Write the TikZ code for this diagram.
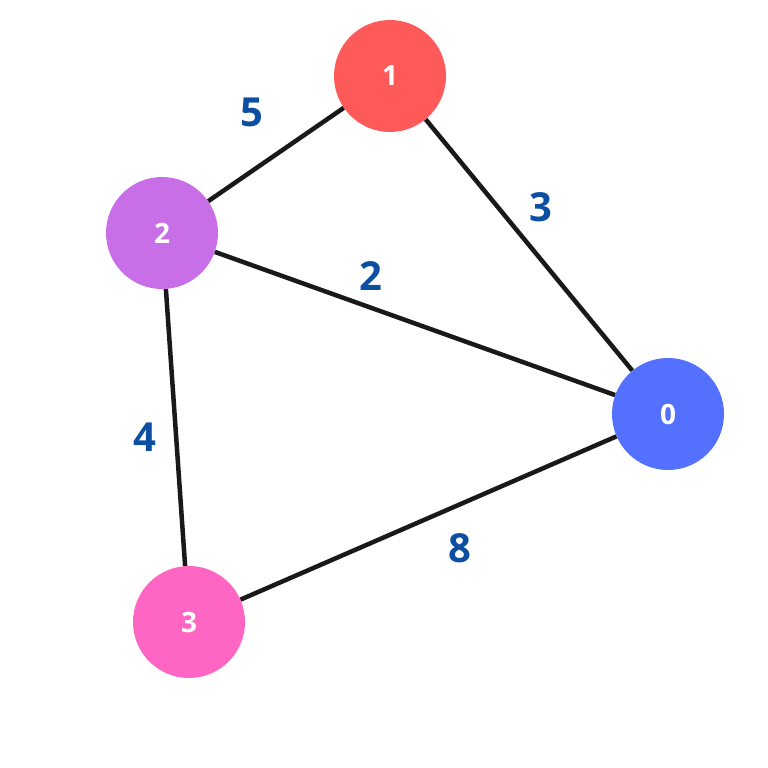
\documentclass[tikz,border=0pt]{standalone}
\usepackage{fontspec}
\setmainfont{Open Sans}
\usetikzlibrary{positioning}
\definecolor{redv}{HTML}{FF5A5A}
\definecolor{purplev}{HTML}{C86EE6}
\definecolor{bluev}{HTML}{5470FF}
\definecolor{pinkv}{HTML}{FF66C4}
\definecolor{weight}{HTML}{0B4EA2}
\tikzstyle{vertex} = [circle, minimum size=112pt, inner sep=0pt, text=white, font=\fontsize{28}{32}\selectfont\bfseries]
\tikzstyle{edge} = [line width=4.5pt, black!90]
\tikzstyle{wlabel} = [text=weight, font=\fontsize{40}{46}\selectfont\bfseries]

\begin{document}
\begin{tikzpicture}[x=1pt, y=-1pt]
    \useasboundingbox (0,0) rectangle (768,768);

    % Vertices
    \node (v1) [vertex, fill=redv] at (390,76) {1};
    \node (v2) [vertex, fill=purplev] at (162,233) {2};
    \node (v0) [vertex, fill=bluev] at (668,414) {0};
    \node (v3) [vertex, fill=pinkv] at (189,622) {3};

    % Edges
    \draw [edge] (v1) -- (v2);
    \draw [edge] (v1) -- (v0);
    \draw [edge] (v2) -- (v0);
    \draw [edge] (v2) -- (v3);
    \draw [edge] (v3) -- (v0);

    % Weights
    \node (w12) [wlabel] at (252,112) {5};
    \node (w10) [wlabel] at (541,207) {3};
    \node (w20) [wlabel] at (371,276) {2};
    \node (w23) [wlabel] at (145,437) {4};
    \node (w30) [wlabel] at (460,548) {8};

\end{tikzpicture}
\end{document}
